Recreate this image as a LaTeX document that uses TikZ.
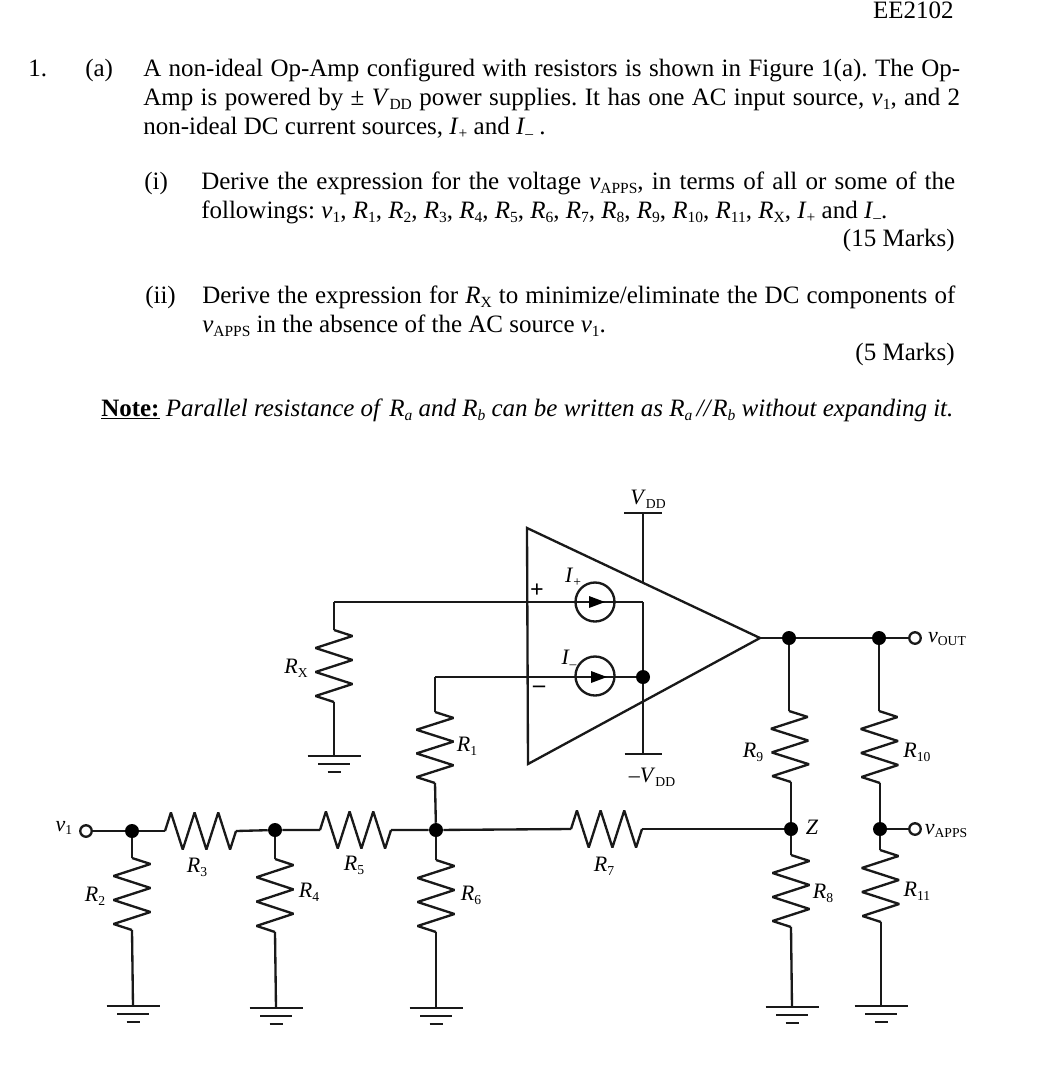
\documentclass[tikz,border=0pt]{standalone}
\usepackage{fontspec}
\setmainfont{Liberation Serif}
\usetikzlibrary{calc}
\frenchspacing
\newcommand\sbx[1]{\raisebox{-.17em}{\scalebox{.62}{#1}}}
\newcommand\iv[2]{\textit{#1}\sbx{#2}}
\newcommand\jl[2]{\makebox[\dimexpr #1pt*3/4\relax][s]{#2}}
\newcommand\vres[2]{\draw[wire] (#1) -- ($(#1)!1/12!(#2)+(18.5,0)$) -- ($(#1)!3/12!(#2)+(-18.5,0)$) -- ($(#1)!5/12!(#2)+(18.5,0)$) -- ($(#1)!7/12!(#2)+(-18.5,0)$) -- ($(#1)!9/12!(#2)+(18.5,0)$) -- ($(#1)!11/12!(#2)+(-18.5,0)$) -- (#2);}
\newcommand\hres[2]{\draw[wire] (#1) -- ($(#1)!1/12!(#2)+(0,-18.5)$) -- ($(#1)!3/12!(#2)+(0,18.5)$) -- ($(#1)!5/12!(#2)+(0,-18.5)$) -- ($(#1)!7/12!(#2)+(0,18.5)$) -- ($(#1)!9/12!(#2)+(0,-18.5)$) -- ($(#1)!11/12!(#2)+(0,18.5)$) -- (#2);}
\newcommand\gnd[1]{\draw[wire] ($(#1)+(-26.5,0)$) -- ($(#1)+(26.5,0)$);
  \draw[wire] ($(#1)+(-16,8)$) -- ($(#1)+(16,8)$);
  \draw[wire] ($(#1)+(-6.5,16)$) -- ($(#1)+(6.5,16)$);}
\tikzset{
  wire/.style={line width=1.75pt,draw=black!90,line join=miter,miter limit=3},
  dot/.style={circle,fill=black,draw=none,minimum size=14*.75pt,inner sep=0pt},
  term/.style={circle,fill=white,draw=black!90,line width=1.75pt,minimum size=11.5*.75pt,inner sep=0pt},
  src/.style={circle,draw=black!90,line width=1.75pt,minimum size=39*.75pt,inner sep=0pt},
  txt/.style={anchor=base west,inner sep=0pt,font=\fontsize{18.75}{22}\selectfont},
  txtr/.style={anchor=base east,inner sep=0pt,font=\fontsize{18.75}{22}\selectfont},
  lab/.style={inner sep=0pt,font=\fontsize{16.5}{20}\selectfont}
}
\begin{document}
\begin{tikzpicture}[x=.75pt,y=-.75pt]
\useasboundingbox (0,0) rectangle (1038,1072);
% ---- text
\node[txtr] (t0) at (954,18) {EE2102};
\node[txt] (t1) at (28,76) {1.};
\node[txt] (t2) at (85,76) {(a)};
\node[txt] (t3) at (143,76) {\jl{817}{A non-ideal Op-Amp configured with resistors is shown in Figure 1(a). The Op-}};
\node[txt] (t4) at (143,105) {\jl{817}{Amp is powered by ± \iv{V}{DD} power supplies. It has one AC input source, \iv{v}{1}, and 2}};
\node[txt] (t5) at (143,134) {non-ideal DC current sources, \iv{I}{+} and \iv{I}{--} .};
\node[txt] (t6) at (144,189) {(i)};
\node[txt] (t7) at (201,189) {\jl{754}{Derive the expression for the voltage \iv{v}{APPS}, in terms of all or some of the}};
\node[txt] (t8) at (201,218) {followings: \iv{v}{1}, \iv{R}{1}, \iv{R}{2}, \iv{R}{3}, \iv{R}{4}, \iv{R}{5}, \iv{R}{6}, \iv{R}{7}, \iv{R}{8}, \iv{R}{9}, \iv{R}{10}, \iv{R}{11}, \iv{R}{X}, \iv{I}{+} and \iv{I}{--}.};
\node[txtr] (t9) at (955,246) {(15 Marks)};
\node[txt] (t10) at (145,303) {(ii)};
\node[txt] (t11) at (202,303) {\jl{753}{Derive the expression for \iv{R}{X} to minimize/eliminate the DC components of}};
\node[txt] (t12) at (202,332) {\iv{v}{APPS} in the absence of the AC source \iv{v}{1}.};
\node[txtr] (t13) at (955,360) {(5 Marks)};
\node[txt] (t14) at (101,416) {\underline{\textbf{Note:}} \textit{Parallel resistance of} \iv{R}{\textit{a}} \textit{and} \iv{R}{\textit{b}} \textit{can be written as} \iv{R}{\textit{a}}\,\textit{//}\iv{R}{\textit{b}} \textit{without expanding it.}};
% ---- op amp
\coordinate (oa) at (527,528); \coordinate (ob) at (528,764); \coordinate (tip) at (760,638);
\draw[wire] (oa) -- (tip) -- (ob) -- cycle;
% ---- supplies
\coordinate (vt) at (643,513); \coordinate (vte) at (643,582.5);
\coordinate (vb) at (643,754); \coordinate (vtop) at (643,602);
\draw[wire] (vt) -- (vte);
\draw[wire] ($(vt)+(-19,0)$) -- ($(vt)+(19,0)$);
\draw[wire] (vtop) -- (vb);
\draw[wire] ($(vb)+(-18.5,0)$) -- ($(vb)+(18.5,0)$);
% ---- inputs
\node[dot] (nm) at (643,677) {};
\coordinate (pl) at (334,602); \coordinate (ml) at (435,677);
\draw[wire] (vtop) -- (pl);
\draw[wire] (nm) -- (ml);
\node[src] (ip) at (595,602) {};
\node[src] (im) at (595,676) {};
\fill[black] (589,596) -- (605,602) -- (589,608) -- cycle;
\fill[black] (591,671) -- (607,677) -- (591,683) -- cycle;
% ---- Rx
\coordinate (rxt) at (334,630); \coordinate (rxb) at (334,702); \coordinate (gx) at (334,756);
\draw[wire] (pl) -- (rxt); \vres{rxt}{rxb} \draw[wire] (rxb) -- (gx); \gnd{gx}
% ---- nodes on horizontal line
\node[term] (in) at (86,831) {};
\node[dot] (n1) at (132,831) {};
\node[dot] (n2) at (275,830) {};
\node[dot] (n3) at (436,830) {};
\node[dot] (z) at (791,829) {};
\node[dot] (n8) at (789,638) {};
\node[dot] (n9) at (879,638) {};
\node[term] (vo) at (915,638) {};
\node[dot] (na) at (880,829) {};
\node[term] (va) at (915,829) {};
% ---- R1
\coordinate (r1t) at (435,712); \coordinate (r1b) at (435,783);
\draw[wire] (ml) -- (r1t); \vres{r1t}{r1b} \draw[wire] (r1b) -- (n3);
% ---- series resistors
\coordinate (r3a) at (165,831); \coordinate (r3b) at (236,831);
\coordinate (r5a) at (320,830); \coordinate (r5b) at (391,830);
\coordinate (r7a) at (571,829); \coordinate (r7b) at (642,829);
\draw[wire] (in) -- (n1) -- (r3a); \hres{r3a}{r3b} \draw[wire] (r3b) -- (n2) -- (r5a);
\hres{r5a}{r5b} \draw[wire] (r5b) -- (n3) -- (r7a); \hres{r7a}{r7b} \draw[wire] (r7b) -- (z);
% ---- shunt resistors
\coordinate (r2t) at (132,858); \coordinate (r2b) at (132,930); \coordinate (g2) at (133,1006);
\draw[wire] (n1) -- (r2t); \vres{r2t}{r2b} \draw[wire] (r2b) -- (g2); \gnd{g2}
\coordinate (r4t) at (275,859); \coordinate (r4b) at (275,932); \coordinate (g4) at (276,1008);
\draw[wire] (n2) -- (r4t); \vres{r4t}{r4b} \draw[wire] (r4b) -- (g4); \gnd{g4}
\coordinate (r6t) at (436,860); \coordinate (r6b) at (436,932); \coordinate (g6) at (436,1008);
\draw[wire] (n3) -- (r6t); \vres{r6t}{r6b} \draw[wire] (r6b) -- (g6); \gnd{g6}
\coordinate (r9t) at (789,711); \coordinate (r9b) at (791,782);
\draw[wire] (tip) -- (n8) -- (n9) -- (vo);
\draw[wire] (n8) -- (r9t); \vres{r9t}{r9b} \draw[wire] (r9b) -- (z);
\coordinate (r8t) at (791,855); \coordinate (r8b) at (791,927); \coordinate (g8) at (792,1007);
\draw[wire] (z) -- (r8t); \vres{r8t}{r8b} \draw[wire] (r8b) -- (g8); \gnd{g8}
\coordinate (r10t) at (879,711); \coordinate (r10b) at (880,783);
\draw[wire] (n9) -- (r10t); \vres{r10t}{r10b} \draw[wire] (r10b) -- (na) -- (va);
\coordinate (r11t) at (880,850); \coordinate (r11b) at (881,922); \coordinate (g11) at (881,1006);
\draw[wire] (na) -- (r11t); \vres{r11t}{r11b} \draw[wire] (r11b) -- (g11); \gnd{g11}
% ---- labels
\node[lab] (lvdd) at (648,499) {\iv{V}{DD}};
\node[lab] (lmvdd) at (652,777) {--\iv{V}{DD}};
\node[lab] (lip) at (573,577) {\iv{I}{+}};
\node[lab] (lim) at (569,659) {\iv{I}{--}};
\node[inner sep=0pt,font=\fontsize{18}{20}\bfseries\selectfont] (lplus) at (537,591) {+};
\node[inner sep=0pt,font=\fontsize{18}{20}\bfseries\selectfont] (lminus) at (539,689) {--};
\node[lab] (lrx) at (296,668) {\iv{R}{X}};
\node[lab] (lr1) at (467,746) {\iv{R}{1}};
\node[lab] (lv1) at (64,828) {\iv{v}{1}};
\node[lab] (lr2) at (95,896) {\iv{R}{2}};
\node[lab] (lr3) at (197,867) {\iv{R}{3}};
\node[lab] (lr4) at (309,892) {\iv{R}{4}};
\node[lab] (lr5) at (354,865) {\iv{R}{5}};
\node[lab] (lr6) at (471,895) {\iv{R}{6}};
\node[lab] (lr7) at (604,866) {\iv{R}{7}};
\node[lab] (lr8) at (823,893) {\iv{R}{8}};
\node[lab] (lr9) at (753,752) {\iv{R}{9}};
\node[lab] (lr10) at (917,752) {\iv{R}{10}};
\node[lab] (lr11) at (917,891) {\iv{R}{11}};
\node[lab] (lz) at (812,827) {\textit{Z}};
\node[lab] (lvo) at (947,639) {\iv{v}{OUT}};
\node[lab] (lva) at (946,831) {\iv{v}{APPS}};
\end{tikzpicture}
\end{document}
